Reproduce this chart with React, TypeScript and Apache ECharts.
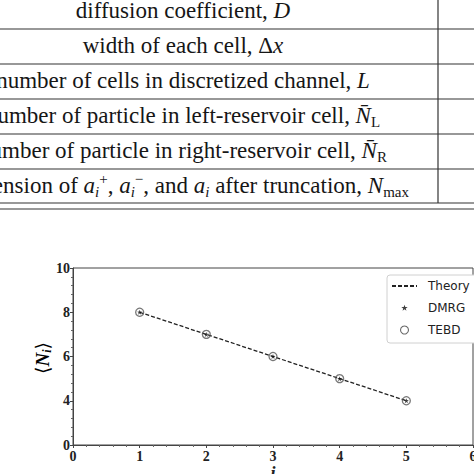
import React, { useEffect, useRef } from 'react';
import * as echarts from 'echarts';

// ---- data ----
const siteIndex = [1, 2, 3, 4, 5];
const theoryValues = [8, 7, 6, 5, 4];
const dmrgValues = [8, 7, 6, 5, 4];
const tebdValues = [8, 7, 6, 5, 4];
const yTickValues = [2, 4, 6, 8, 10];
const yTickLabels = ['0', '4', '6', '8', '10'];
const legendNames = ['Theory', 'DMRG', 'TEBD'];
const tableRows = [
  '{t|diffusion coefficient, }{m|D}',
  '{t|width of each cell, Δ}{m|x}',
  '{t|number of cells in discretized channel, }{m|L}',
  '{t|number of particle in left-reservoir cell, }{m|N\u0304}{s|L}',
  '{t|number of particle in right-reservoir cell, }{m|N\u0304}{s|R}',
  '{t|dimension of }{m|a}{si|i}{sp|+}{t|, }{m|a}{si|i}{sp|\u2212}{t|, and }{m|a}{si|i}{t| after truncation, }{m|N}{s|max}',
];

const SERIF = '"Liberation Serif", "DejaVu Serif", serif';
const SANS = '"DejaVu Sans", sans-serif';

const STAR =
  'M0,-10 L2.35,-3.24 L9.51,-3.09 L3.8,1.24 L5.88,8.09 L0,4 L-5.88,8.09 L-3.8,1.24 L-9.51,-3.09 L-2.35,-3.24 Z';
const STAR_PADDED = 'path://M-12,-12 M12,12 ' + STAR;

export default function App() {
  const ref = useRef<HTMLDivElement>(null);

  useEffect(() => {
    document.body.style.margin = '0';
    if (!ref.current) return;
    const chart = echarts.init(ref.current, null, { renderer: 'svg' });

    const rowLines = [29, 64, 99, 134, 169, 203];
    const tableFontSize = 23;
    const ink = '#161616';
    const rich = {
      t: { fontFamily: SERIF, fontSize: tableFontSize, lineHeight: 28, color: ink },
      m: { fontFamily: SERIF, fontStyle: 'italic', fontSize: tableFontSize, lineHeight: 28, color: ink },
      s: { fontFamily: SERIF, fontSize: 15, lineHeight: 12, verticalAlign: 'bottom', color: ink },
      si: { fontFamily: SERIF, fontStyle: 'italic', fontSize: 15, lineHeight: 12, verticalAlign: 'bottom', color: ink },
      sp: { fontFamily: SERIF, fontSize: 15, lineHeight: 14, verticalAlign: 'top', color: ink },
    };

    const graphics: any[] = [];
    rowLines.forEach((y) => {
      graphics.push({
        type: 'line',
        shape: { x1: 0, y1: y, x2: 474, y2: y },
        style: { stroke: '#333', lineWidth: 1.2 },
        silent: true,
      });
    });
    graphics.push({
      type: 'line',
      shape: { x1: 0, y1: 209, x2: 474, y2: 209 },
      style: { stroke: '#333', lineWidth: 1.2 },
      silent: true,
    });
    graphics.push({
      type: 'line',
      shape: { x1: 438, y1: 0, x2: 438, y2: 203 },
      style: { stroke: '#333', lineWidth: 1.2 },
      silent: true,
    });
    tableRows.forEach((t, i) => {
      const top = i === 0 ? -6 : rowLines[i - 1];
      const bottom = rowLines[i];
      graphics.push({
        type: 'text',
        x: 183,
        y: (top + bottom) / 2 - 1,
        style: {
          text: t,
          rich: { ...rich },
          fill: ink,
          align: 'center',
          verticalAlign: 'middle',
        },
        silent: true,
      });
    });
    // y-axis title <N_i>
    graphics.push({
      type: 'text',
      x: 42,
      y: 358,
      rotation: Math.PI / 2,
      style: {
        text: '{b|\u27E8}{n|N}{i|i}{b|\u27E9}',
        rich: {
          b: { fontFamily: SERIF, fontSize: 19, lineHeight: 22, color: '#222' },
          n: { fontFamily: SERIF, fontSize: 19, fontWeight: 'bold', fontStyle: 'italic', lineHeight: 22, color: '#222' },
          i: { fontFamily: SERIF, fontSize: 12, fontWeight: 'bold', fontStyle: 'italic', lineHeight: 10, verticalAlign: 'bottom', color: '#222' },
        },
        align: 'center',
        verticalAlign: 'middle',
      },
      silent: true,
    });

    const axisLabelStyle = { fontFamily: SERIF, fontWeight: 'bold', fontSize: 14, color: '#222' };

    chart.setOption({
      animation: false,
      backgroundColor: '#fff',
      grid: {
        left: 73,
        right: 1,
        top: 268,
        bottom: 29,
        show: true,
        borderColor: '#444',
        borderWidth: 1,
        containLabel: false,
        outerBoundsMode: 'none',
      },
      legend: {
        data: [
          { name: legendNames[0], itemStyle: { color: 'rgba(0,0,0,0)', borderWidth: 0, opacity: 0 } },
          { name: legendNames[1], icon: STAR_PADDED },
          {
            name: legendNames[2],
            icon: 'circle',
            itemStyle: { color: 'rgba(0,0,0,0)', borderColor: '#444', borderWidth: 1.1 },
          },
        ],
        orient: 'vertical',
        left: 387,
        top: 275,
        itemWidth: 25,
        itemHeight: 8,
        itemGap: 10,
        padding: [5, 8, 7, 4],
        backgroundColor: '#fff',
        borderColor: '#d0d0d0',
        borderWidth: 1,
        borderRadius: 3,
        selectedMode: false,
        textStyle: { fontFamily: SANS, fontSize: 12, color: '#222', padding: [0, 0, 0, 6] },
      },
      xAxis: {
        type: 'value',
        min: 0,
        max: 6,
        interval: 1,
        name: 'i',
        nameLocation: 'middle',
        nameGap: 13,
        nameTextStyle: { fontFamily: SERIF, fontStyle: 'italic', fontWeight: 'bold', fontSize: 18, color: '#222' },
        axisLine: { show: true, lineStyle: { color: '#444', width: 1 } },
        axisTick: { show: true, inside: false, length: 3, lineStyle: { color: '#444' } },
        minorTick: { show: true, splitNumber: 5, length: 2, lineStyle: { color: '#666' } },
        axisLabel: { ...axisLabelStyle, margin: 4 },
        splitLine: { show: false },
        minorSplitLine: { show: false },
      },
      yAxis: {
        type: 'value',
        min: 2,
        max: 10,
        interval: 2,
        axisLine: { show: true, lineStyle: { color: '#444', width: 1 } },
        axisTick: { show: true, inside: false, length: 3, lineStyle: { color: '#444' } },
        minorTick: { show: true, splitNumber: 5, length: 2, lineStyle: { color: '#666' } },
        axisLabel: {
          ...axisLabelStyle,
          margin: 3,
          formatter: (v: number) => {
            const k = yTickValues.indexOf(v);
            return k >= 0 ? yTickLabels[k] : '';
          },
        },
        splitLine: { show: false },
        minorSplitLine: { show: false },
      },
      series: [
        {
          name: legendNames[0],
          type: 'line',
          data: siteIndex.map((x, i) => [x, theoryValues[i]]),
          symbol: 'none',
          lineStyle: { color: '#222', width: 1.3, type: [4, 2] },
          itemStyle: { color: '#222' },
          z: 2,
        },
        {
          name: legendNames[1],
          type: 'scatter',
          data: siteIndex.map((x, i) => [x, dmrgValues[i]]),
          symbol: 'path://' + STAR,
          symbolSize: 5,
          itemStyle: { color: '#111' },
          z: 4,
        },
        {
          name: legendNames[2],
          type: 'scatter',
          data: siteIndex.map((x, i) => [x, tebdValues[i]]),
          symbol: 'circle',
          symbolSize: 8,
          itemStyle: { color: 'rgba(0,0,0,0)', borderColor: '#555', borderWidth: 1.3 },
          z: 3,
        },
      ],
      graphic: graphics,
    });

    return () => chart.dispose();
  }, []);

  return <div ref={ref} style={{ width: 474, height: 474 }} />;
}
